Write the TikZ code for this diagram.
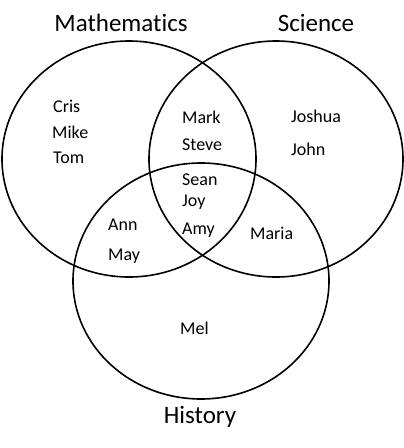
\documentclass[tikz,border=0pt]{standalone}
\usepackage{fontspec}
\setmainfont[Ligatures=NoCommon]{Carlito}
\begin{document}
\begin{tikzpicture}[x=1pt,y=-1pt,
  ring/.style={draw=black,line width=1.6pt},
  setlabel/.style={anchor=base,inner sep=0pt,font=\fontsize{25}{28}\selectfont},
  member/.style={anchor=base west,inner sep=0pt,font=\fontsize{18}{20}\selectfont}]
\useasboundingbox (0,0) rectangle (404,448);
\draw[ring] (129,159) ellipse [x radius=127, y radius=118];
\draw[ring] (276,159) ellipse [x radius=127, y radius=118];
\draw[ring] (201,281) ellipse [x radius=128, y radius=118];
\node[setlabel] (math) at (121,31) {Mathematics};
\node[setlabel] (sci) at (316,31) {Science};
\node[setlabel] (hist) at (200,423) {History};
\node[member] (cris) at (53,112) {Cris};
\node[member] (mike) at (52,138) {Mike};
\node[member] (tom) at (53,163) {Tom};
\node[member] (mark) at (182,123) {Mark};
\node[member] (steve) at (182,150) {Steve};
\node[member] (joshua) at (291,122) {Joshua};
\node[member] (john) at (291,155) {John};
\node[member] (sean) at (182,185) {Sean};
\node[member] (joy) at (182,206) {Joy};
\node[member] (amy) at (182,234) {Amy};
\node[member] (ann) at (108,230) {Ann};
\node[member] (may) at (108,260) {May};
\node[member] (maria) at (250,239) {Maria};
\node[member] (mel) at (180,334) {Mel};
\end{tikzpicture}
\end{document}
